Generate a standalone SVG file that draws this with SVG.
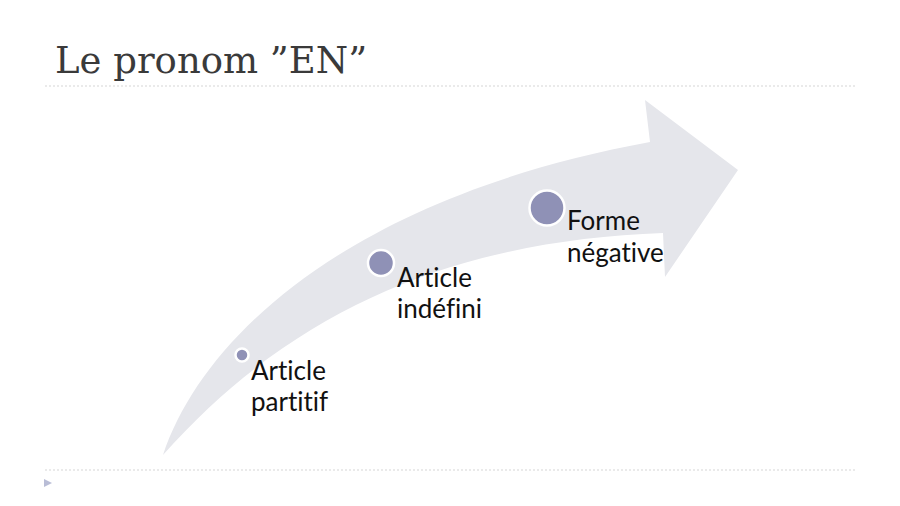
<svg xmlns="http://www.w3.org/2000/svg" width="900" height="506" viewBox="0 0 900 506">
  <style>
    .lbl { font-family: Lato, "Open Sans", sans-serif; font-size: 26px; fill: #111; font-variant-ligatures: none; font-feature-settings: "liga" 0; }
    .dot { fill: #8f91b6; stroke: #ffffff; stroke-width: 2.5; }
    .rule { stroke: #d6d6d6; stroke-width: 1.2; stroke-dasharray: 2 2; fill: none; }
  </style>
  <rect width="900" height="506" fill="#ffffff"/>
  <g id="title">
    <text x="55" y="73" font-family="DejaVu Serif, 'Liberation Serif', serif" font-size="37" fill="#3a3a3a">Le pronom ”EN”</text>
  </g>
  <g id="rules">
    <line class="rule" x1="45" y1="86" x2="855" y2="86"/>
    <line class="rule" x1="45" y1="470" x2="855" y2="470"/>
    <path d="M44,479 L52,483 L44,487 Z" fill="#b9bdd6"/>
  </g>
  <g id="connectors">
    <path id="arrow" d="M163,455 C205,330 360,195 650,142 L645,100 L738,170 L665,277 L663,233 C470,240 300,300 163,455 Z" fill="#e5e6eb"/>
  </g>
  <g id="node1">
    <circle class="dot" cx="242" cy="355" r="6.5"/>
    <text class="lbl" x="251" y="380">Article</text>
    <text class="lbl" x="251" y="411">partitif</text>
  </g>
  <g id="node2">
    <circle class="dot" cx="381" cy="263" r="13"/>
    <text class="lbl" x="397" y="287">Article</text>
    <text class="lbl" x="397" y="318">indéfini</text>
  </g>
  <g id="node3">
    <circle class="dot" cx="547" cy="208" r="17.5"/>
    <text class="lbl" x="567" y="230">Forme</text>
    <text class="lbl" x="567" y="262">négative</text>
  </g>
</svg>
